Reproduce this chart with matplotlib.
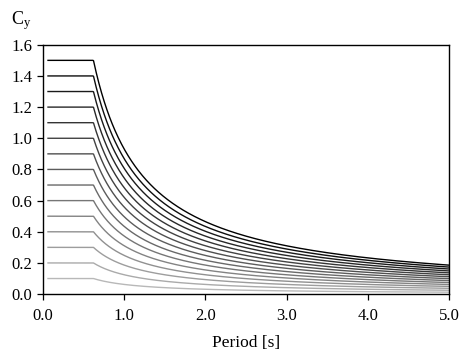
import numpy as np
import matplotlib
matplotlib.use("Agg")
import matplotlib.pyplot as plt

plt.rcParams['font.family'] = ['Liberation Serif', 'DejaVu Serif']
plt.rcParams['mathtext.fontset'] = 'custom'
plt.rcParams['mathtext.rm'] = 'Liberation Serif'
plt.rcParams['mathtext.it'] = 'Liberation Serif'

plateau_levels = [0.1, 0.2, 0.3, 0.4, 0.5, 0.6, 0.7, 0.8, 0.9, 1.0, 1.1, 1.2, 1.3, 1.4, 1.5]
T_start = 0.06
T_corner = 0.62
T_end = 5.0
x_ticks = [0.0, 1.0, 2.0, 3.0, 4.0, 5.0]
y_ticks = [0.0, 0.2, 0.4, 0.6, 0.8, 1.0, 1.2, 1.4, 1.6]

fig = plt.figure(figsize=(4.74, 3.64), dpi=100)
ax = fig.add_axes([0.091, 0.192, 0.856, 0.685])

T = np.linspace(T_start, T_end, 600)
n = len(plateau_levels)
for i, c in enumerate(plateau_levels):
    y = np.where(T <= T_corner, c, c * T_corner / T)
    g = 0.72 * (1 - i / (n - 1))
    ax.plot(T, y, color=(g, g, g), lw=1.0)

ax.set_xlim(0, 5)
ax.set_ylim(0, 1.6)
ax.set_xticks(x_ticks)
ax.set_yticks(y_ticks)
ax.set_xticklabels([f"{v:.1f}" for v in x_ticks], fontsize=12)
ax.set_yticklabels([f"{v:.1f}" for v in y_ticks], fontsize=12)
ax.tick_params(axis='y', direction='out', length=4, width=0.9, color='black', pad=4)
ax.tick_params(axis='x', direction='out', length=4, width=0.9, color='black', pad=6)
for s in ax.spines.values():
    s.set_linewidth(1.0)
ax.set_xlabel("Period [s]", fontsize=12.5, labelpad=8)
fig.text(0.044, 0.944, r"C$_\mathregular{y}$", fontsize=13, ha='center', va='center')

fig.savefig("out.png", dpi=100)
